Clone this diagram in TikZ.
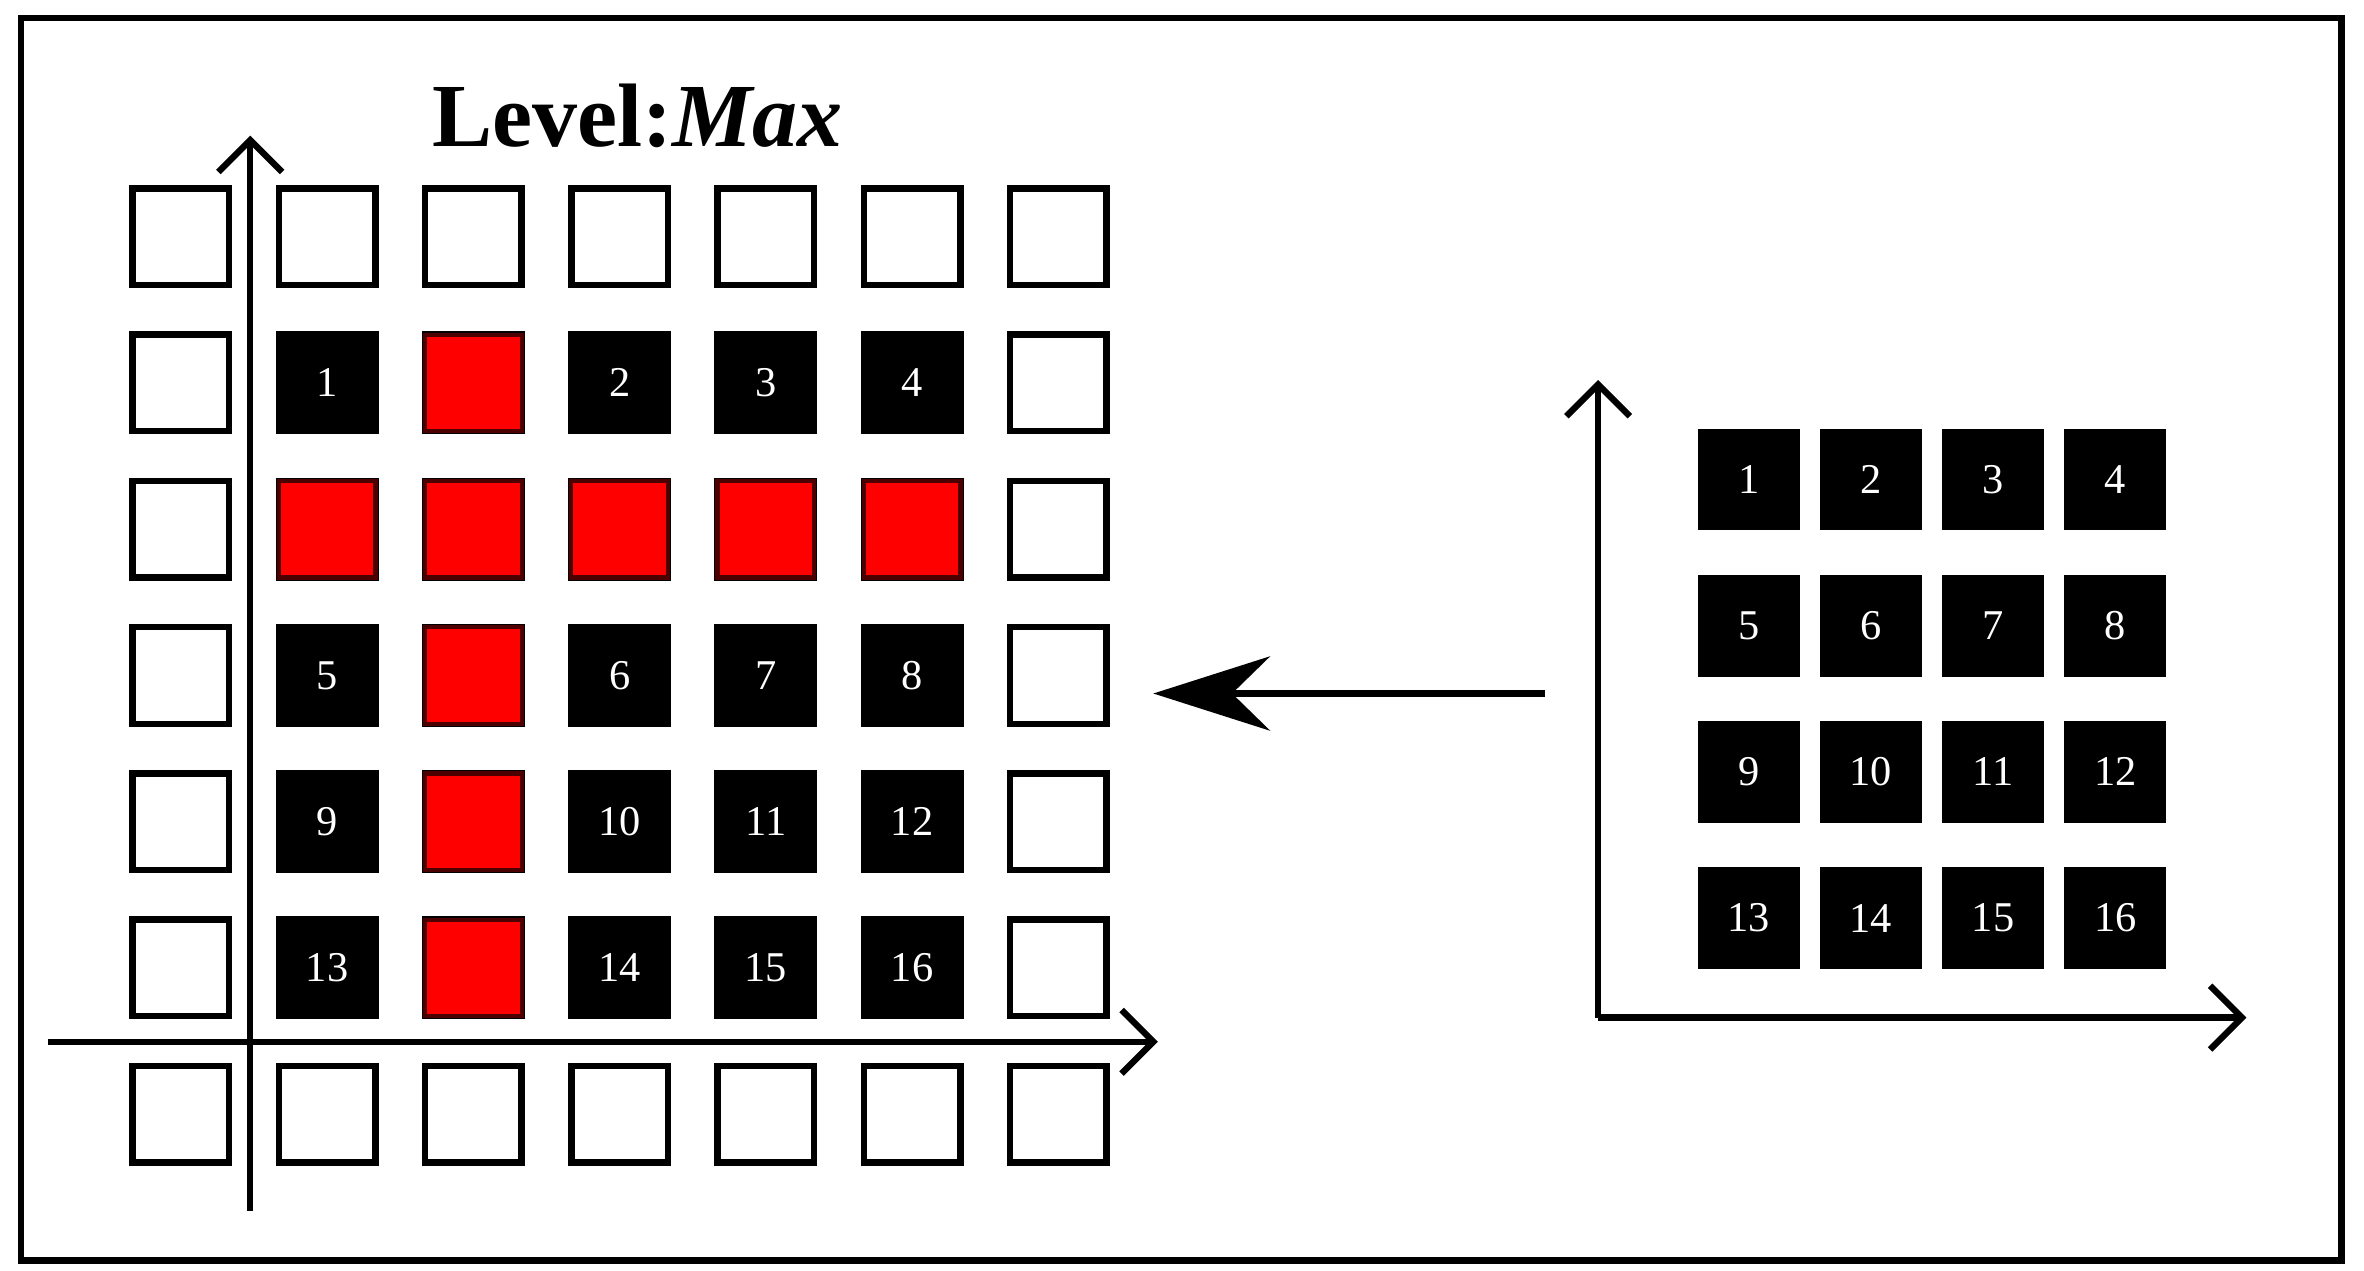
\documentclass[tikz,border=0pt]{standalone}
\usepackage{fontspec}
\setmainfont{Liberation Serif}
\usetikzlibrary{arrows.meta}
\begin{document}
\begin{tikzpicture}[x=0.01cm,y=-0.01cm,
  wbox/.style={draw=black,line width=1.2pt,fill=white,minimum size=0.64cm,inner sep=0pt},
  bbox/.style={draw=black,fill=black,minimum size=0.66cm,inner sep=0pt,text=white,font=\fontsize{8}{9}\selectfont},
  rbox/.style={draw=black!70!red,line width=0.8pt,fill=red,minimum size=0.64cm,inner sep=0pt},
  ax/.style={line width=1.2pt,-{Straight Barb[length=6pt,width=12pt]}}]
\useasboundingbox (0,0) rectangle (1568,843);
\draw[line width=1.2pt] (14,12) rectangle (1553,836);
\node[font=\bfseries\fontsize{17}{20}\selectfont] (t) at (423,77) {Level:\textit{Max}};
% left grid
\foreach \r in {0,...,6}{\foreach \c in {0,...,6}{
  \node[wbox] (L\r\c) at ({120+97*\c},{157+97*\r}) {};}}
\foreach \r/\c in {1/2,2/1,2/2,2/3,2/4,2/5,3/2,4/2,5/2}{
  \node[rbox] (R\r\c) at ({120+97*\c},{157+97*\r}) {};}
\foreach \r/\c/\n in {1/1/1,1/3/2,1/4/3,1/5/4,3/1/5,3/3/6,3/4/7,3/5/8,4/1/9,4/3/10,4/4/11,4/5/12,5/1/13,5/3/14,5/4/15,5/5/16}{
  \node[bbox] (B\n) at ({120+97*\c},{157+97*\r}) {\n};}
\coordinate (ly0) at (166,803); \coordinate (ly1) at (166,90);
\coordinate (lx0) at (32,691); \coordinate (lx1) at (768,691);
\draw[ax] (ly0) -- (ly1);
\draw[ax] (lx0) -- (lx1);
% right grid
\foreach \r in {0,...,3}{\foreach \c in {0,...,3}{
  \pgfmathtruncatemacro\n{4*\r+\c+1}
  \node[bbox] (S\n) at ({1160+81*\c},{318+97*\r}) {\n};}}
\coordinate (o) at (1060,675); \coordinate (oy) at (1060,252); \coordinate (ox) at (1490,675);
\draw[ax] (o) -- (oy);
\draw[ax] (o) -- (ox);
% arrow
\coordinate (a0) at (1025,460); \coordinate (a1) at (765,460);
\draw[line width=1.2pt,-{Stealth[length=22pt,width=14pt]}] (a0) -- (a1);
\end{tikzpicture}
\end{document}
